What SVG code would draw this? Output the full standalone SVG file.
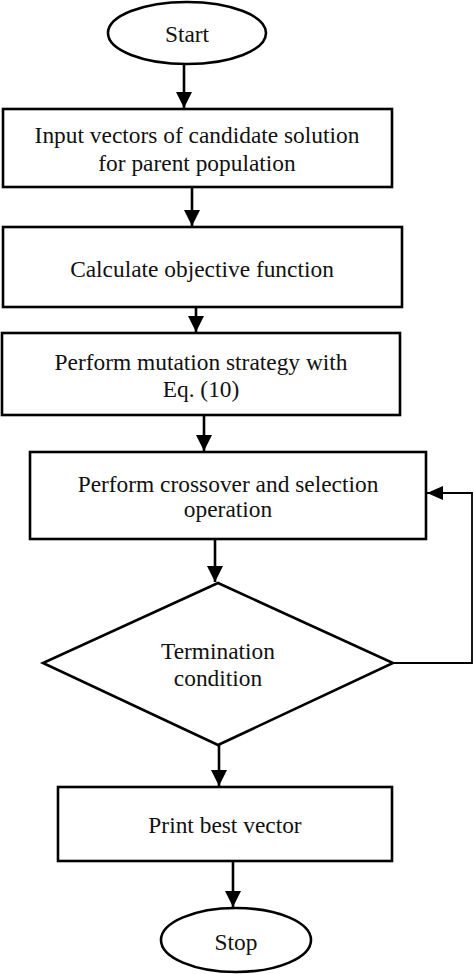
<svg xmlns="http://www.w3.org/2000/svg" width="474" height="974" viewBox="0 0 474 974">
<style>
.s{fill:#fff;stroke:#000;stroke-width:2.6}
.t{font-family:"Liberation Serif","Times New Roman",serif;font-size:23.4px;fill:#111;text-anchor:middle}
.c{fill:none;stroke:#000;stroke-width:2.6}
.f{fill:none;stroke:#000;stroke-width:1.8}
</style>
<defs>
<marker id="ah" markerUnits="userSpaceOnUse" markerWidth="16" markerHeight="18" refX="16" refY="8" orient="auto">
<path d="M0,0 L16,8 L0,16 Z" fill="#000"/>
</marker>
<marker id="ah2" markerUnits="userSpaceOnUse" markerWidth="16" markerHeight="14" refX="16" refY="7" orient="auto">
<path d="M0,0 L16,7 L0,14 Z" fill="#000"/>
</marker>
</defs>
<rect width="474" height="974" fill="#fff"/>
<g id="connectors">
<line class="c" x1="184" y1="65" x2="184" y2="108" marker-end="url(#ah)"/>
<line class="c" x1="192" y1="188" x2="192" y2="226" marker-end="url(#ah)"/>
<line class="c" x1="196" y1="308" x2="196" y2="332" marker-end="url(#ah)"/>
<line class="c" x1="204" y1="416" x2="204" y2="451" marker-end="url(#ah)"/>
<line class="c" x1="215" y1="540" x2="215" y2="582" marker-end="url(#ah)"/>
<line class="c" x1="219" y1="745" x2="219" y2="786" marker-end="url(#ah)"/>
<line class="c" x1="233" y1="862" x2="233" y2="907" marker-end="url(#ah)"/>
<polyline class="f" points="393,663 472,663 472,493 427,493" marker-end="url(#ah2)"/>
</g>
<g id="start">
<ellipse class="s" cx="187" cy="33" rx="79" ry="31"/>
<text class="t" x="187" y="42">Start</text>
</g>
<g id="input">
<rect class="s" x="3" y="109" width="389" height="78"/>
<text class="t" x="197" y="143">Input vectors of candidate solution</text>
<text class="t" x="197" y="171">for parent population</text>
</g>
<g id="calc">
<rect class="s" x="3" y="227" width="399" height="80"/>
<text class="t" x="202" y="277">Calculate objective function</text>
</g>
<g id="mutation">
<rect class="s" x="2" y="333" width="398" height="82"/>
<text class="t" x="201" y="370">Perform mutation strategy with</text>
<text class="t" x="201" y="397">Eq. (10)</text>
</g>
<g id="crossover">
<rect class="s" x="30" y="452" width="396" height="87"/>
<text class="t" x="228" y="492">Perform crossover and selection</text>
<text class="t" x="228" y="517">operation</text>
</g>
<g id="termination">
<polygon class="s" points="218,583 393,663 218,745 43,663"/>
<text class="t" x="218" y="659">Termination</text>
<text class="t" x="218" y="686">condition</text>
</g>
<g id="print">
<rect class="s" x="58" y="787" width="334" height="74"/>
<text class="t" x="225" y="833">Print best vector</text>
</g>
<g id="stop">
<ellipse class="s" cx="236" cy="940" rx="75" ry="32"/>
<text class="t" x="236" y="950">Stop</text>
</g>
</svg>
